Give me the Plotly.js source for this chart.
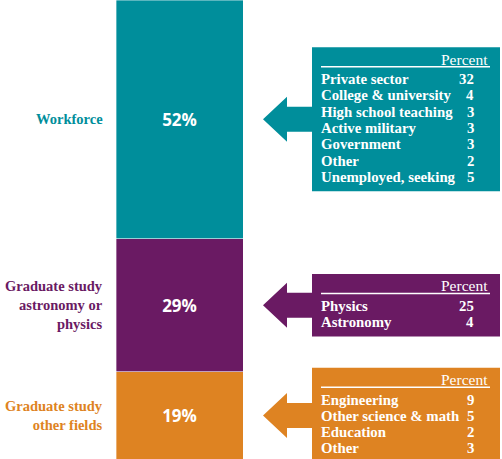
<!DOCTYPE html>
<html>
<head>
<meta charset="utf-8">
<script src="https://cdn.plot.ly/plotly-3.0.1.min.js"></script>
<style>
  html, body { margin: 0; padding: 0; background: #fff; }
  #chart { width: 502px; height: 459px; }
</style>
</head>
<body>
<div id="chart"></div>
<script>
// main split of graduates
var groups = ["Workforce", "Graduate study<br>astronomy or<br>physics", "Graduate study<br>other fields"];
var shares = [52, 29, 19];
var colors = ["#008e9b", "#6a1a63", "#de8322"];

// breakdown tables
var workforceItems = ["Private sector", "College & university", "High school teaching", "Active military", "Government", "Other", "Unemployed, seeking"];
var workforceValues = [32, 4, 3, 3, 3, 2, 5];
var physAstroItems = ["Physics", "Astronomy"];
var physAstroValues = [25, 4];
var otherFieldItems = ["Engineering", "Other science & math", "Education", "Other"];
var otherFieldValues = [9, 5, 2, 3];

var tables = [
    {items: workforceItems, values: workforceValues},
    {items: physAstroItems, values: physAstroValues},
    {items: otherFieldItems, values: otherFieldValues}
];

var W = 502, H = 459;
var serif = "Liberation Serif, Times New Roman, serif";
var sans = "Open Sans, Lato, sans-serif";

// y axis runs 0 (top) to 100 (bottom); helpers to go px <-> units
function toY(px){ return px * 100 / H; }
function toPx(y){ return y * H / 100; }

var traces = [];
for (var i = 0; i < shares.length; i++) {
    traces.push({
        type: "bar",
        x: [179.5],
        y: [shares[i]],
        width: [127],
        marker: {color: colors[i], line: {color: "rgba(255,255,255,0.6)", width: 0.6}},
        text: ["<b>" + shares[i] + "%</b>"],
        textposition: "inside",
        insidetextanchor: "middle",
        textfont: {family: sans, size: 17, color: "#ffffff"},
        hoverinfo: "skip"
    });
}

var shapes = [];
var annotations = [];
var cum = 0;
var rowH = 16.3;

for (var g = 0; g < shares.length; g++) {
    var mid = toPx(cum + shares[g] / 2);
    cum += shares[g];
    var col = colors[g];

    // label on the left
    annotations.push({
        x: 105, y: toY(mid), xref: "x", yref: "y",
        xanchor: "right", yanchor: "middle", align: "right",
        text: groups[g], showarrow: false,
        font: {family: serif, size: 14.5, color: col, weight: 700}
    });

    var n = tables[g].items.length;
    var boxH = 46.2 + (n - 1) * rowH;
    var boxTop = mid - boxH / 2;

    // box
    shapes.push({
        type: "rect", xref: "x", yref: "y",
        x0: 312, x1: 500, y0: toY(boxTop), y1: toY(boxTop + boxH),
        fillcolor: col, line: {width: 0}, layer: "above"
    });
    // arrow pointing at the bar
    var p = [[263, mid], [287, mid - 22.5], [287, mid - 12.5], [313, mid - 12.5],
             [313, mid + 12.5], [287, mid + 12.5], [287, mid + 22.5]];
    var path = "M" + p.map(function(q){ return q[0] + "," + toY(q[1]); }).join(" L") + " Z";
    shapes.push({type: "path", xref: "x", yref: "y", path: path, fillcolor: col, line: {width: 0}, layer: "above"});

    // header + rule
    annotations.push({
        x: 490, y: toY(boxTop + 12), xref: "x", yref: "y",
        xanchor: "right", yanchor: "middle",
        text: "Percent", showarrow: false,
        font: {family: serif, size: 15.5, color: "#ffffff"}
    });
    shapes.push({
        type: "line", xref: "x", yref: "y",
        x0: 321, x1: 490, y0: toY(boxTop + 19.5), y1: toY(boxTop + 19.5),
        line: {color: "#ffffff", width: 1.5}, layer: "above"
    });

    for (var r = 0; r < n; r++) {
        var ry = toY(boxTop + 31.7 + r * rowH);
        annotations.push({
            x: 319, y: ry, xref: "x", yref: "y",
            xanchor: "left", yanchor: "middle",
            text: tables[g].items[r], showarrow: false,
            font: {family: serif, size: 14.8, color: "#ffffff", weight: 700}
        });
        annotations.push({
            x: 476, y: ry, xref: "x", yref: "y",
            xanchor: "right", yanchor: "middle",
            text: String(tables[g].values[r]), showarrow: false,
            font: {family: serif, size: 14.8, color: "#ffffff", weight: 700}
        });
    }
}

var layout = {
    width: W, height: H,
    margin: {l: 0, r: 0, t: 0, b: 0, pad: 0},
    paper_bgcolor: "#ffffff",
    plot_bgcolor: "#ffffff",
    barmode: "stack",
    showlegend: false,
    xaxis: {range: [0, W], visible: false, fixedrange: true},
    yaxis: {range: [100, 0], visible: false, fixedrange: true},
    shapes: shapes,
    annotations: annotations
};

Plotly.newPlot("chart", traces, layout, {displayModeBar: false, staticPlot: true});
</script>
</body>
</html>
